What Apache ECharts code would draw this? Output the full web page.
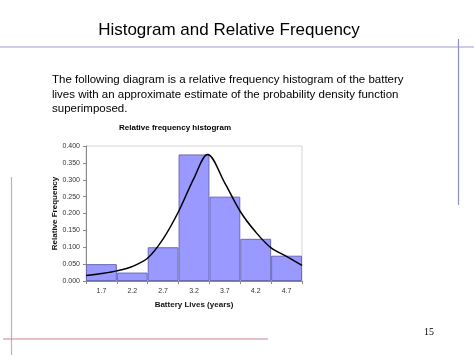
<!DOCTYPE html>
<html lang="en">
<head>
    <meta charset="UTF-8">
    <script src="https://cdn.jsdelivr.net/npm/echarts@6/dist/echarts.min.js"></script>
    <style>
        html, body {margin: 0; padding: 0; background: #fff;}
        #main {width: 474px; height: 355px;}
    </style>
</head>
<body>
<div id="main"></div>
<script>
    // 直方图数据
    var lifeLabels = ['1.7', '2.2', '2.7', '3.2', '3.7', '4.2', '4.7'];
    var relFreq = [0.050, 0.025, 0.100, 0.375, 0.250, 0.125, 0.075];
    // 密度曲线
    var curveX = [1.45, 1.70, 1.95, 2.20, 2.45, 2.70, 2.95, 3.20, 3.42, 3.70, 3.95, 4.20, 4.45, 4.70, 4.95];
    var curveY = [0.016, 0.022, 0.030, 0.043, 0.068, 0.125, 0.206, 0.305, 0.375, 0.290, 0.206, 0.145, 0.098, 0.073, 0.046];
    var yTicks = [0, 0.4, 0.05];

    var curveData = curveX.map(function (x, i) { return [x, curveY[i]]; });

    var myChart = echarts.init(document.getElementById('main'));
    var option = {
        animation: false,
        grid: {
            left: 86, top: 146, right: 172, bottom: 74,
            show: true, borderColor: '#d4d4d4', borderWidth: 1
        },
        xAxis: [{
            type: 'category',
            data: lifeLabels,
            boundaryGap: true,
            axisLine: {lineStyle: {color: '#8a8a8a'}},
            axisTick: {show: true, length: 3, lineStyle: {color: '#8a8a8a'}},
            axisLabel: {fontSize: 7, color: '#333', fontFamily: 'Liberation Sans', margin: 7},
            name: 'Battery Lives (years)',
            nameLocation: 'middle',
            nameGap: 20,
            nameTextStyle: {fontSize: 8, fontWeight: 'bold', color: '#111', fontFamily: 'Liberation Sans'}
        }, {
            type: 'value',
            min: 1.45,
            max: 4.95,
            show: false
        }],
        yAxis: {
            type: 'value',
            min: yTicks[0],
            max: yTicks[1],
            interval: yTicks[2],
            axisLine: {show: true, lineStyle: {color: '#8a8a8a'}},
            axisTick: {show: true, length: 3, lineStyle: {color: '#8a8a8a'}},
            splitLine: {show: false},
            axisLabel: {
                fontSize: 7, color: '#333', fontFamily: 'Liberation Sans', margin: 6,
                formatter: function (v) { return v.toFixed(3); }
            },
            name: 'Relative Frequency',
            nameLocation: 'middle',
            nameGap: 26,
            nameTextStyle: {fontSize: 8, fontWeight: 'bold', color: '#111', fontFamily: 'Liberation Sans'}
        },
        series: [{
            type: 'bar',
            data: relFreq,
            barCategoryGap: 0,
            itemStyle: {color: '#9999ff', borderColor: '#6b6bb5', borderWidth: 1}
        }, {
            type: 'line',
            xAxisIndex: 1,
            data: curveData,
            smooth: 0.35,
            symbol: 'none',
            lineStyle: {color: '#000', width: 1.5}
        }],
        graphic: [
            // 页面装饰线
            {type: 'line', shape: {x1: 0, y1: 47, x2: 474, y2: 47}, style: {stroke: '#9c9cd0', lineWidth: 1.2}},
            {type: 'line', shape: {x1: 458.5, y1: 39, x2: 458.5, y2: 205}, style: {stroke: '#8e8ec8', lineWidth: 1.2}},
            {type: 'line', shape: {x1: 11.5, y1: 177, x2: 11.5, y2: 355}, style: {stroke: '#b4b4c4', lineWidth: 1.2}},
            {type: 'line', shape: {x1: 3, y1: 339, x2: 268, y2: 339}, style: {stroke: '#d4808e', lineWidth: 1.2}},
            {type: 'text', style: {x: 229, y: 30, text: 'Histogram and Relative Frequency',
                font: '17px "Liberation Sans"', fill: '#000', textAlign: 'center', textVerticalAlign: 'middle'}},
            {type: 'text', style: {x: 52, y: 73, text: 'The following diagram is a relative frequency histogram of the battery\nlives with an approximate estimate of the probability density function\nsuperimposed.',
                font: '11.5px "Liberation Sans"', lineHeight: 14.5, fill: '#000'}},
            {type: 'text', style: {x: 175, y: 128, text: 'Relative frequency histogram',
                font: 'bold 8px "Liberation Sans"', fill: '#000', textAlign: 'center', textVerticalAlign: 'middle'}},
            {type: 'text', style: {x: 429, y: 332, text: '15',
                font: '10px "Liberation Serif"', fill: '#000', textAlign: 'center', textVerticalAlign: 'middle'}}
        ]
    };
    myChart.setOption(option);
</script>
</body>
</html>
